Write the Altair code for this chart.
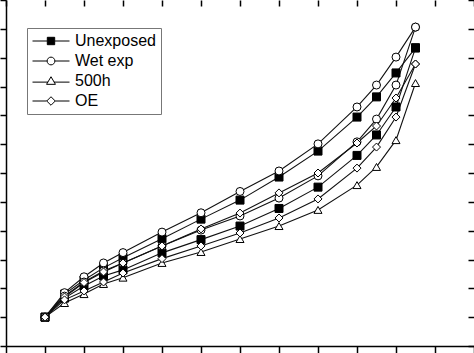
import altair as alt
import pandas as pd

# ---- data (axis units = tick intervals) ----
x_vals = [1, 1.5, 2, 2.5, 3, 4, 5, 6, 7, 8, 9, 9.5, 10, 10.5]
series_names = ["Unexposed", "Wet exp", "500h", "OE"]

unexposed_up = [1.0, 1.80, 2.29, 2.71, 3.06, 3.72, 4.40, 5.06, 5.86, 6.76, 7.94, 8.64, 9.47, 10.34]
unexposed_down = [1.0, 1.66, 2.08, 2.43, 2.64, 3.23, 3.69, 4.16, 4.77, 5.51, 6.61, 7.32, 8.29, 10.34]
wet_up = [1.0, 1.85, 2.40, 2.88, 3.24, 3.95, 4.62, 5.36, 6.07, 7.01, 8.29, 9.05, 10.02, 11.06]
wet_down = [1.0, 1.73, 2.22, 2.60, 2.88, 3.47, 4.02, 4.51, 5.13, 5.90, 7.08, 7.87, 9.05, 11.06]
h500 = [1.0, 1.49, 1.80, 2.15, 2.37, 2.88, 3.26, 3.71, 4.16, 4.72, 5.58, 6.21, 7.14, 9.12]
oe_up = [1.0, 1.70, 2.20, 2.57, 2.88, 3.47, 4.06, 4.61, 5.31, 6.00, 7.04, 7.63, 8.60, 9.78]
oe_down = [1.0, 1.60, 1.91, 2.22, 2.53, 3.03, 3.47, 3.92, 4.44, 5.10, 6.17, 6.90, 7.94, 9.78]

tick_values = list(range(13))

branches = [
    ("Unexposed", "up", unexposed_up),
    ("Unexposed", "down", unexposed_down),
    ("Wet exp", "up", wet_up),
    ("Wet exp", "down", wet_down),
    ("500h", "up", h500),
    ("OE", "up", oe_up),
    ("OE", "down", oe_down),
]
rows = []
for s, b, ys in branches:
    for xv, yv in zip(x_vals, ys):
        rows.append({"series": s, "key": s + "-" + b, "x": xv, "y": yv})
df = pd.DataFrame(rows)

# ---- styling ----
xscale = alt.Scale(domain=[0, 12], nice=False, zero=False)
yscale = alt.Scale(domain=[0, 12], nice=False, zero=False)

marker_shapes = ["square", "circle", "triangle-up", "diamond"]
marker_fills = ["black", "white", "white", "white"]
marker_strokes = ["black", "black", "black", "black"]
legend_paths = [
    "M-1,0L-0.2,0M0.2,0L1,0M-0.2,-0.2L0.2,-0.2L0.2,0.2L-0.2,0.2Z",
    "M-1,0L-0.21,0M0.21,0L1,0M0.21,0A0.21,0.21 0 1,1 -0.21,0A0.21,0.21 0 1,1 0.21,0Z",
    "M-1,0.06L-0.16,0.06M0.16,0.06L1,0.06M0,-0.23L0.24,0.18L-0.24,0.18Z",
    "M-1,0L-0.23,0M0.23,0L1,0M0,-0.23L0.23,0L0,0.23L-0.23,0Z",
]

def ax(orient, size, offset=0, domain=True):
    kw = dict(orient=orient, values=tick_values, labels=False, title=None,
              tickSize=size, tickWidth=1.5, tickColor="black", grid=False,
              domain=domain, domainColor="black", domainWidth=1.5)
    if offset:
        kw["offset"] = offset
    return alt.Axis(**kw)

base = alt.Chart(df)

lines = base.mark_line(color="#111", strokeWidth=1.1).encode(
    x=alt.X("x:Q", scale=xscale, axis=ax("bottom", 7)),
    y=alt.Y("y:Q", scale=yscale, axis=ax("left", 6)),
    detail="key:N",
    order="x:Q",
)

points = base.mark_point(filled=True, stroke="black", strokeWidth=1, size=64, opacity=1).encode(
    x=alt.X("x:Q", scale=xscale, axis=None),
    y=alt.Y("y:Q", scale=yscale, axis=None),
    shape=alt.Shape("series:N", scale=alt.Scale(domain=series_names, range=marker_shapes), legend=None),
    fill=alt.Fill("series:N", scale=alt.Scale(domain=series_names, range=marker_fills), legend=None),
)

leg = alt.Legend(
    title=None, orient="none", legendX=21, legendY=28,
    labelFont="Liberation Sans", labelFontSize=16, labelColor="black",
    labelOffset=5, rowPadding=4, padding=5, clipHeight=16,
    strokeColor="#777", fillColor="white",
    symbolSize=1369, symbolStrokeWidth=1,
)

legend_layer = base.transform_filter("false").mark_point(
    filled=True, size=1369, opacity=1, strokeWidth=1
).encode(
    x=alt.X("x:Q", scale=xscale, axis=ax("top", 6, offset=-6, domain=False)),
    y=alt.Y("y:Q", scale=yscale, axis=ax("right", 6, offset=-6, domain=False)),
    shape=alt.Shape("series:N", scale=alt.Scale(domain=series_names, range=legend_paths), legend=leg),
    fill=alt.Fill("series:N", scale=alt.Scale(domain=series_names, range=marker_fills), legend=leg),
    stroke=alt.Stroke("series:N", scale=alt.Scale(domain=series_names, range=marker_strokes), legend=leg),
)

chart = (
    alt.layer(lines, points, legend_layer)
    .resolve_scale(shape="independent", fill="independent", stroke="independent")
    .resolve_axis(x="independent", y="independent")
    .properties(
        width=468, height=346,
        autosize=alt.AutoSizeParams(type="none"),
        padding={"left": 6, "top": 0, "right": 0, "bottom": 7},
        background="white",
    )
    .configure_view(stroke=None)
)

chart.save("out.html", embed_options={"renderer": "svg", "actions": False})
